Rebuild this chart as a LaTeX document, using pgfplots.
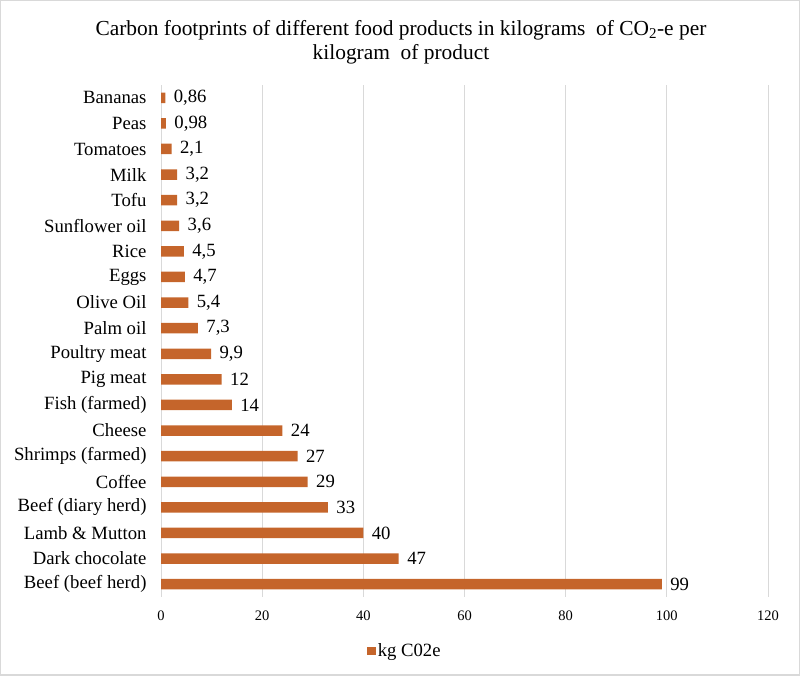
\documentclass[border=0pt]{standalone}
\usepackage{pgfplots}
\pgfplotsset{compat=1.18}
\usepackage{fontspec}
\setmainfont{Liberation Serif}
\definecolor{barc}{HTML}{C5652B}
\definecolor{gridc}{HTML}{D9D9D9}
\begin{document}
\begin{tikzpicture}[x=1bp,y=1bp]
\draw[gridc, line width=1.5bp] (0.75,0.75) rectangle (799.25,675.25);
\node[align=center, font=\fontsize{21.4bp}{24bp}\selectfont] at (401,634)
  {Carbon footprints of different food products in kilograms \ of CO\textsubscript{2}-e per\\kilogram \ of product};
\begin{axis}[
  at={(161bp,79bp)}, anchor=south west,
  scale only axis, width=607bp, height=512bp,
  xmin=0, xmax=120, ymin=-0.5, ymax=19.5,
  xtick={0,20,...,120},
  ytick={0,...,19},
  yticklabels={Beef (beef herd),Dark chocolate,Lamb \& Mutton,Beef (diary herd),Coffee,Shrimps (farmed),Cheese,Fish (farmed),Pig meat,Poultry meat,Palm oil,Olive Oil,Eggs,Rice,Sunflower oil,Tofu,Milk,Tomatoes,Peas,Bananas},
  axis line style={draw=none},
  major tick length=0pt,
  xmajorgrids, major grid style={gridc, line width=1bp},
  /pgf/number format/assume math mode=true,
  /pgf/number format/use comma,
  xticklabel style={font=\fontsize{14.5bp}{16bp}\selectfont, yshift=-10bp},
  yticklabel style={font=\fontsize{18.7bp}{22bp}\selectfont, xshift=-11bp},
  xbar, bar width=10.5bp,
  nodes near coords,
  nodes near coords style={font=\fontsize{18.7bp}{22bp}\selectfont, anchor=west, xshift=5bp, /pgf/number format/use comma},
  legend style={at={(0.402,-0.105)}, anchor=center, draw=none, fill=none,
    font=\fontsize{18.7bp}{22bp}\selectfont, inner sep=0pt},
  legend image code/.code={\fill[barc] (0bp,-4.2bp) rectangle (8.4bp,4.2bp);},
  clip=false,
]
\addplot[fill=barc, draw=none] coordinates {
(99,0) (47,1) (40,2) (33,3) (29,4) (27,5) (24,6) (14,7) (12,8) (9.9,9)
(7.3,10) (5.4,11) (4.7,12) (4.5,13) (3.6,14) (3.2,15) (3.2,16) (2.1,17) (0.98,18) (0.86,19)};
\addlegendentry{kg C02e}
\end{axis}
\end{tikzpicture}
\end{document}
